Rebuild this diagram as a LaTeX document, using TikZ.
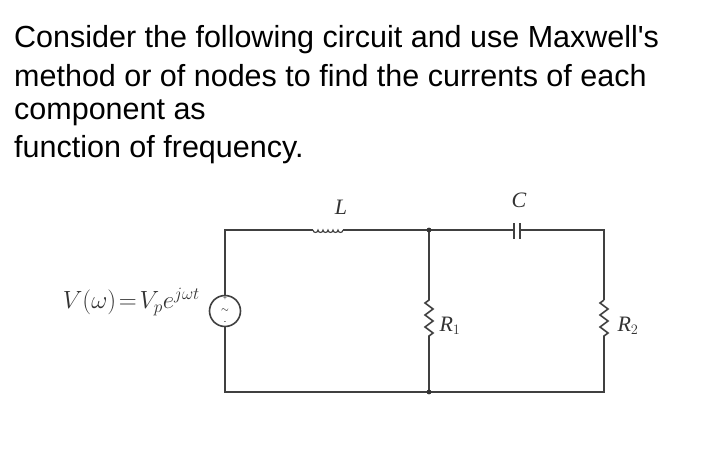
\documentclass[tikz,border=0pt]{standalone}
\usepackage{fontspec}
\setmainfont{Liberation Serif}
\newfontfamily\txtfont{Liberation Sans}
\begin{document}
\begin{tikzpicture}[x=1pt,y=-1pt,
  wire/.style={line width=1.6pt,draw=black!75},
  lbl/.style={font=\itshape\fontsize{22}{22}\selectfont,text=black!80},
  txt/.style={anchor=west,font=\txtfont\fontsize{30.5}{30.5}\selectfont,inner sep=0pt}]
\useasboundingbox (0,0) rectangle (720,452);
\node[txt] (t1) at (14,40) {Consider the following circuit and use Maxwell's};
\node[txt] (t2) at (14,76) {method or of nodes to find the currents of each};
\node[txt] (t3) at (14,113) {component as};
\node[txt] (t4) at (14,150) {function of frequency.};
% nodes
\coordinate (tl) at (225,230); \coordinate (bl) at (225,392);
\coordinate (tm) at (429,230); \coordinate (bm) at (429,392);
\coordinate (tr) at (604,230); \coordinate (br) at (604,392);
\node[circle,draw=black!75,line width=1.6pt,minimum size=31pt,inner sep=0pt] (src) at (225,311) {};
\node[font=\fontsize{7}{7}\selectfont,inner sep=0pt] (plus) at (225,299) {+};
\node[font=\fontsize{10}{10}\selectfont,inner sep=0pt] (tilde) at (225,311) {$\sim$};
\node[font=\fontsize{7}{7}\selectfont,inner sep=0pt] (minus) at (225,323) {-};
\draw[wire] (src.north) -- (tl) -- (313,230);
\draw[wire] (src.south) -- (bl) -- (bm) -- (br) -- (604,340);
% inductor
\draw[wire,line width=1.1pt] (313,230) \foreach \i in {0,...,5}{ arc[start angle=180,end angle=0,radius=2.5] };
\draw[wire] (343,230) -- (tm) -- (514,230);
\draw[wire] (514,223) -- (514,239) (520,223) -- (520,239);
\draw[wire] (520,230) -- (tr) -- (604,300);
% R1
\draw[wire] (tm) -- (429,300) -- (425,303) -- (433,309) -- (425,315) -- (433,321) -- (425,327) -- (433,333) -- (429,336) -- (bm);
% R2
\draw[wire] (604,300) -- (600,303) -- (608,309) -- (600,315) -- (608,321) -- (600,327) -- (608,333) -- (604,336) -- (br);
\fill[black!80] (tm) circle (2.4) (bm) circle (2.4);
\node[lbl] (Ll) at (341,207) {L};
\node[lbl] (Cl) at (519,200) {C};
\node[lbl,anchor=west] (R1l) at (436,326) {R$_1$};
\node[lbl,anchor=west] (R2l) at (614,326) {R$_2$};
\node[font=\fontsize{24}{24}\selectfont,text=black!80,anchor=east,inner sep=0pt] (vl) at (200,302) {$V(\omega)\!=\!V_p e^{j\omega t}$};
\end{tikzpicture}
\end{document}
